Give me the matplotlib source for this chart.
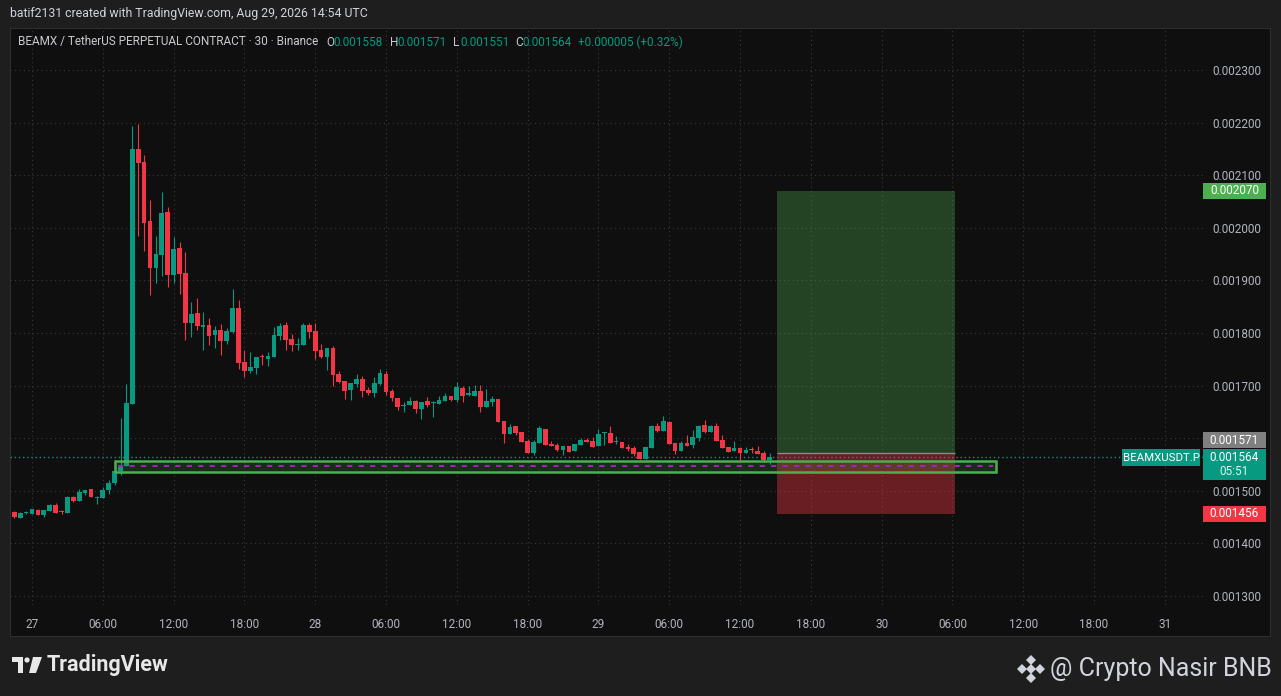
import numpy as np
import pandas as pd
import matplotlib
matplotlib.use('Agg')
import matplotlib.pyplot as plt
from matplotlib.patches import Rectangle, Polygon, Circle

plt.rcParams['font.family'] = ['Roboto', 'DejaVu Sans']

## 30 min candles BEAMX/USDT, first bar 26 Aug 22:30
start_time = '2026-08-26 22:30'
opens  = [0.001460,0.001448,0.001457,0.001456,0.001464,0.001454,0.001462,0.001473,0.001461,0.001458,
          0.001488,0.001481,0.001496,0.001504,0.001487,0.001486,0.001502,0.001515,0.001538,0.001547,
          0.001665,0.002150,0.002125,0.002013,0.001924,0.001948,0.002030,0.001910,0.001962,0.001914,
          0.001819,0.001838,0.001811,0.001815,0.001796,0.001806,0.001785,0.001802,0.001848,0.001745,
          0.001728,0.001734,0.001757,0.001751,0.001754,0.001794,0.001815,0.001789,0.001778,0.001777,
          0.001815,0.001804,0.001768,0.001754,0.001772,0.001722,0.001709,0.001692,0.001703,0.001713,
          0.001692,0.001686,0.001703,0.001722,0.001690,0.001676,0.001662,0.001663,0.001671,0.001656,
          0.001671,0.001666,0.001665,0.001671,0.001680,0.001673,0.001695,0.001683,0.001680,0.001690,
          0.001659,0.001669,0.001675,0.001633,0.001608,0.001623,0.001612,0.001595,0.001572,0.001591,
          0.001618,0.001589,0.001587,0.001578,0.001585,0.001576,0.001587,0.001597,0.001595,0.001585,
          0.001609,0.001610,0.001592,0.001593,0.001583,0.001581,0.001574,0.001561,0.001581,0.001623,
          0.001614,0.001631,0.001591,0.001576,0.001591,0.001587,0.001600,0.001625,0.001612,0.001623,
          0.001597,0.001583,0.001576,0.001581,0.001572,0.001578,0.001576,0.001572,0.001558]
highs  = [0.001462,0.001460,0.001462,0.001466,0.001466,0.001464,0.001475,0.001477,0.001464,0.001490,
          0.001490,0.001504,0.001502,0.001504,0.001490,0.001507,0.001521,0.001538,0.001638,0.001703,
          0.002194,0.002197,0.002138,0.002053,0.001985,0.002068,0.002040,0.001983,0.001973,0.001954,
          0.001859,0.001867,0.001840,0.001829,0.001813,0.001817,0.001810,0.001884,0.001863,0.001768,
          0.001764,0.001754,0.001760,0.001764,0.001811,0.001819,0.001821,0.001798,0.001791,0.001819,
          0.001819,0.001819,0.001779,0.001772,0.001775,0.001728,0.001709,0.001705,0.001722,0.001718,
          0.001697,0.001716,0.001732,0.001728,0.001694,0.001676,0.001669,0.001678,0.001673,0.001669,
          0.001678,0.001671,0.001680,0.001686,0.001680,0.001707,0.001699,0.001699,0.001701,0.001701,
          0.001694,0.001680,0.001675,0.001633,0.001627,0.001623,0.001612,0.001599,0.001597,0.001623,
          0.001618,0.001595,0.001591,0.001585,0.001585,0.001589,0.001600,0.001600,0.001602,0.001618,
          0.001612,0.001623,0.001604,0.001593,0.001589,0.001585,0.001574,0.001583,0.001625,0.001629,
          0.001642,0.001633,0.001591,0.001595,0.001606,0.001616,0.001625,0.001635,0.001625,0.001629,
          0.001606,0.001583,0.001595,0.001583,0.001583,0.001583,0.001585,0.001576,0.001571]
lows   = [0.001448,0.001448,0.001456,0.001456,0.001454,0.001450,0.001462,0.001458,0.001456,0.001458,
          0.001479,0.001481,0.001492,0.001488,0.001475,0.001486,0.001494,0.001511,0.001530,0.001547,
          0.001665,0.001985,0.001956,0.001872,0.001895,0.001908,0.001888,0.001895,0.001874,0.001787,
          0.001792,0.001806,0.001768,0.001777,0.001772,0.001758,0.001779,0.001800,0.001732,0.001716,
          0.001724,0.001722,0.001739,0.001737,0.001754,0.001787,0.001768,0.001766,0.001768,0.001777,
          0.001791,0.001751,0.001753,0.001730,0.001699,0.001705,0.001675,0.001673,0.001697,0.001678,
          0.001682,0.001678,0.001701,0.001682,0.001671,0.001654,0.001650,0.001663,0.001648,0.001637,
          0.001659,0.001640,0.001665,0.001671,0.001671,0.001669,0.001669,0.001680,0.001680,0.001650,
          0.001659,0.001661,0.001631,0.001591,0.001608,0.001606,0.001593,0.001572,0.001568,0.001591,
          0.001587,0.001585,0.001576,0.001568,0.001574,0.001576,0.001587,0.001593,0.001583,0.001585,
          0.001587,0.001591,0.001589,0.001581,0.001576,0.001566,0.001561,0.001561,0.001581,0.001612,
          0.001614,0.001589,0.001570,0.001576,0.001585,0.001581,0.001595,0.001610,0.001612,0.001595,
          0.001581,0.001574,0.001576,0.001557,0.001572,0.001572,0.001570,0.001555,0.001551]
closes = [0.001450,0.001458,0.001458,0.001466,0.001454,0.001464,0.001473,0.001458,0.001460,0.001488,
          0.001481,0.001498,0.001502,0.001488,0.001488,0.001502,0.001515,0.001538,0.001547,0.001667,
          0.002150,0.002123,0.002009,0.001924,0.001950,0.002028,0.001910,0.001960,0.001912,0.001819,
          0.001836,0.001813,0.001815,0.001794,0.001806,0.001785,0.001804,0.001848,0.001743,0.001728,
          0.001735,0.001754,0.001755,0.001756,0.001796,0.001813,0.001787,0.001777,0.001779,0.001815,
          0.001802,0.001766,0.001754,0.001772,0.001720,0.001707,0.001690,0.001705,0.001713,0.001690,
          0.001686,0.001705,0.001724,0.001688,0.001676,0.001659,0.001663,0.001671,0.001656,0.001669,
          0.001663,0.001667,0.001673,0.001680,0.001673,0.001697,0.001680,0.001684,0.001690,0.001659,
          0.001671,0.001675,0.001631,0.001608,0.001621,0.001610,0.001593,0.001572,0.001593,0.001619,
          0.001587,0.001585,0.001578,0.001585,0.001574,0.001589,0.001597,0.001593,0.001583,0.001608,
          0.001610,0.001591,0.001593,0.001581,0.001580,0.001570,0.001561,0.001583,0.001623,0.001614,
          0.001633,0.001589,0.001576,0.001591,0.001585,0.001602,0.001623,0.001612,0.001623,0.001595,
          0.001581,0.001574,0.001581,0.001572,0.001578,0.001577,0.001570,0.001559,0.001564]

## Long position tool
entry_price  = 0.001571
target_price = 0.002070
stop_price   = 0.001456
pos_start = '2026-08-29 15:10'
pos_end   = '2026-08-30 06:15'

## Horizontal zone
zone_low  = 0.001536
zone_high = 0.001557
zone_mid  = 0.001547
zone_start = '2026-08-27 07:00'
zone_end   = '2026-08-30 09:40'

last_price = 0.001564
countdown  = '05:51'

ytick_vals = [0.0013, 0.0014, 0.0015, 0.0016, 0.0017, 0.0018, 0.0019, 0.0020, 0.0021, 0.0022, 0.0023]
ytick_hidden = [0.0016]
xtick_times = pd.date_range('2026-08-27', '2026-08-31', freq='6h')
xtick_labels = ['27','06:00','12:00','18:00','28','06:00','12:00','18:00','29',
                '06:00','12:00','18:00','30','06:00','12:00','18:00','31']

GREEN = '#089981'
RED   = '#f23645'
TXT   = '#b2b5be'
W, H  = 1281, 696

t0   = pd.Timestamp('2026-08-27')
step = pd.Timedelta('30min')
def tx(t):
    return (pd.Timestamp(t) - t0) / step

times = pd.date_range(start_time, periods=len(opens), freq='30min')
x = np.array([tx(t) for t in times])
o = np.array(opens); h = np.array(highs); l = np.array(lows); c = np.array(closes)
up = c >= o
cols = np.where(up, GREEN, RED)

fig = plt.figure(figsize=(W/100, H/100), dpi=100, facecolor='#1e1e1e')

panel = fig.add_axes([10/W, 60/H, 1260/W, 608/H])
panel.set_facecolor('#0f0f0f')
panel.set_xticks([]); panel.set_yticks([])
for s in panel.spines.values():
    s.set_color('#2e2e2e')

ax = fig.add_axes([10/W, 91/H, 1193/W, 577/H])
ax.set_facecolor('none')
for s in ax.spines.values():
    s.set_visible(False)

ax.set_xlim(-22/5.9, 1171/5.9)
ax.set_ylim(0.0012829, 0.0023798)

## grid
ax.set_yticks(ytick_vals)
ax.set_yticklabels(['' if v in ytick_hidden else f'{v:.6f}' for v in ytick_vals])
ax.set_xticks([tx(t) for t in xtick_times])
ax.set_xticklabels(xtick_labels)
ax.grid(True, color='#3a3a3a', linestyle=(0, (1, 3)), linewidth=0.8)
ax.yaxis.tick_right()
ax.tick_params(axis='y', length=0, pad=6.5, colors=TXT, labelsize=8.5)
ax.tick_params(axis='x', length=0, pad=9, colors=TXT, labelsize=8.5)

## candles
body_lo = np.minimum(o, c)
body_h = np.maximum(np.abs(c - o), 2.0e-6)
ax.vlines(x, l, h, colors=cols, linewidth=0.8, zorder=3)
ax.bar(x, body_h, bottom=body_lo, width=0.8, color=cols, linewidth=0, zorder=4)

## position tool
ps, pe = tx(pos_start), tx(pos_end)
ax.add_patch(Rectangle((ps, entry_price), pe - ps, target_price - entry_price,
                       facecolor='#4caf50', alpha=0.33, linewidth=0, zorder=2))
ax.add_patch(Rectangle((ps, stop_price), pe - ps, entry_price - stop_price,
                       facecolor=RED, alpha=0.4, linewidth=0, zorder=2))
ax.hlines(entry_price, ps, pe, colors='#8a8a8a', linewidth=1, zorder=2.5)

## zone box
zs, ze = tx(zone_start), tx(zone_end)
ax.add_patch(Rectangle((zs, zone_low), ze - zs, zone_high - zone_low,
                       facecolor='#4caf50', alpha=0.18, linewidth=0, zorder=5))
ax.add_patch(Rectangle((zs, zone_low), ze - zs, zone_high - zone_low,
                       facecolor='none', edgecolor='#4caf50', linewidth=1.8, zorder=5))
ax.hlines(zone_mid, zs + 0.5, ze - 0.5, colors='#9c27b0', linewidth=1.5,
          linestyles=(0, (2.5, 3)), zorder=5)

## last price line
ax.axhline(last_price, color=GREEN, linewidth=1, linestyle=(0, (1, 2)), zorder=2)

## overlay in pixel coords for labels
ov = fig.add_axes([0, 0, 1, 1])
ov.set_xlim(0, W); ov.set_ylim(H, 0)
ov.axis('off')
ov.set_facecolor('none')

def py(p):
    return H - ax.transData.transform((0, p))[1]

def price_box(yc, txt, bg, hgt=16):
    ov.add_patch(Rectangle((1203, yc - hgt/2), 63, hgt, facecolor=bg, linewidth=0))
    ov.text(1234.5, yc, txt, color='white', fontsize=8.5, ha='center', va='center')

price_box(py(target_price), f'{target_price:.6f}', '#4caf50')
price_box(py(entry_price) - 13, f'{entry_price:.6f}', '#808080')
price_box(py(stop_price), f'{stop_price:.6f}', RED)
yl = py(last_price)
ov.add_patch(Rectangle((1203, yl - 8), 63, 31, facecolor=GREEN, linewidth=0))
ov.text(1234.5, yl, f'{last_price:.6f}', color='white', fontsize=8.5, ha='center', va='center')
ov.text(1234.5, yl + 14, countdown, color='#e0f2ee', fontsize=8.5, ha='center', va='center')
ov.add_patch(Rectangle((1122, yl - 8), 78, 17, facecolor=GREEN, linewidth=0))
ov.text(1161, yl + 0.5, 'BEAMXUSDT.P', color='white', fontsize=8.2, ha='center', va='center')

## header
ov.text(10, 14, 'batif2131 created with TradingView.com, Aug 29, 2026 14:54 UTC',
        color='#d1d4dc', fontsize=8.8, ha='left', va='center')
ov.text(18, 42, 'BEAMX / TetherUS PERPETUAL CONTRACT · 30 · Binance',
        color='#c8cad0', fontsize=8.5, ha='left', va='center')
legend_parts = [(326, 'O', '#c8cad0'), (333, f'{opens[-1]:.6f}', GREEN),
                (390, 'H', '#c8cad0'), (397, f'{highs[-1]:.6f}', GREEN),
                (453, 'L', '#c8cad0'), (460, f'{lows[-1]:.6f}', GREEN),
                (515, 'C', '#c8cad0'), (522, f'{closes[-1]:.6f}', GREEN),
                (578, '+0.000005 (+0.32%)', GREEN)]
for xp, s, col in legend_parts:
    ov.text(xp, 42, s, color=col, fontsize=8.5, ha='left', va='center')

## footer: TradingView logo + text
ov.add_patch(Polygon([(12, 657), (23, 657), (23, 673), (17.5, 673), (17.5, 662), (12, 662)],
                     closed=True, facecolor='#e8e8e8', linewidth=0))
ov.add_patch(Circle((27, 660), 2.6, facecolor='#e8e8e8', linewidth=0))
ov.add_patch(Polygon([(33, 657), (42, 657), (36, 673), (29, 673)],
                     closed=True, facecolor='#e8e8e8', linewidth=0))
ov.text(47, 665.5, 'TradingView', color='#e8e8e8', fontsize=15.5, fontweight='bold',
        ha='left', va='center')

## footer: binance mark + credit
for dx, dy, sz in [(0, -9, 5), (0, 9, 5), (-9, 0, 5), (9, 0, 5), (0, 0, 5)]:
    ov.plot(1031 + dx, 669 + dy, marker='D', markersize=sz, color='#d1d4dc',
            markeredgewidth=0)
ov.text(1050, 669, '@ Crypto Nasir BNB', color='#d1d4dc', fontsize=18,
        ha='left', va='center')

fig.savefig('out.png', dpi=100, facecolor=fig.get_facecolor())
